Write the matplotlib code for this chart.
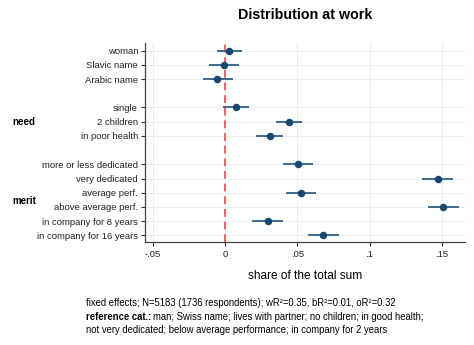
import matplotlib
matplotlib.use("Agg")
import matplotlib.pyplot as plt
import matplotlib.transforms as mtransforms

plt.rcParams['font.family'] = ['Liberation Sans', 'DejaVu Sans']

labels = ["woman", "Slavic name", "Arabic name",
          "single", "2 children", "in poor health",
          "more or less dedicated", "very dedicated", "average perf.",
          "above average perf.", "in company for 8 years", "in company for 16 years"]
positions = [1, 2, 3, 5, 6, 7, 9, 10, 11, 12, 13, 14]
estimates = [0.0030, -0.0007, -0.0053, 0.0076, 0.0443, 0.0309,
             0.0503, 0.1470, 0.0528, 0.1510, 0.0295, 0.0680]
ci_low = [-0.0057, -0.0110, -0.0154, -0.0012, 0.0353, 0.0217,
          0.0399, 0.1365, 0.0422, 0.1406, 0.0191, 0.0576]
ci_high = [0.0118, 0.0099, 0.0053, 0.0168, 0.0533, 0.0401,
           0.0608, 0.1575, 0.0631, 0.1616, 0.0401, 0.0786]
xticks = [-0.05, 0, 0.05, 0.1, 0.15]
xticklabels = ["-.05", "0", ".05", ".1", ".15"]
groups = [("need", 6), ("merit", 11.55)]

W, H = 474, 345
fig = plt.figure(figsize=(W / 100, H / 100), dpi=100)
ax = fig.add_axes([145 / W, 1 - 242 / H, 320 / W, 199 / H])

navy = "#1a476f"
ci_col = "#3d6a93"
grid_col = "#e8eef3"

for p in positions:
    ax.axhline(p, color=grid_col, lw=0.8, zorder=0)
for t in xticks:
    ax.axvline(t, color=grid_col, lw=0.8, zorder=0)

ax.axvline(0, color="#e8646c", lw=1.4, ls=(0, (4, 2.5)), zorder=1)
ax.hlines(positions, ci_low, ci_high, color=ci_col, lw=1.4, zorder=2)
ax.plot(estimates, positions, 'o', color=navy, ms=4.4, zorder=3)

ax.set_xlim(-0.0552, 0.166)
ax.set_ylim(14.47, 0.46)
ax.set_yticks(positions)
ax.set_yticklabels(labels)
ax.set_xticks(xticks)
ax.set_xticklabels(xticklabels)
ax.tick_params(axis='both', labelsize=6.8, colors="#333333", length=3, width=0.8, labelcolor="#222222")
ax.tick_params(axis='y', pad=2)
ax.tick_params(axis='x', pad=2.5)
for s in ["top", "right"]:
    ax.spines[s].set_visible(False)
for s in ["left", "bottom"]:
    ax.spines[s].set_color("#444444")
    ax.spines[s].set_linewidth(0.9)

trans = mtransforms.blended_transform_factory(fig.transFigure, ax.transData)
for name, yv in groups:
    fig.text(12.5 / W, yv, name, transform=trans, fontsize=7,
             fontweight="bold", ha="left", va="center")

fig.text(305 / W, 1 - 15 / H, "Distribution at work", ha="center", va="center",
         fontsize=10.3, fontweight="bold")
fig.text(305 / W, 1 - 276 / H, "share of the total sum", ha="center", va="center",
         fontsize=8.6)

fs = 6.85
x0 = 86 / W
fig.text(x0, 1 - 303 / H, "fixed effects; N=5183 (1736 respondents); wR²=0.35, bR²=0.01, oR²=0.32",
         fontsize=fs, va="center", ha="left")
tb = fig.text(x0, 1 - 316.5 / H, "reference cat.:", fontsize=fs, fontweight="bold", va="center", ha="left")
fig.canvas.draw()
bb = tb.get_window_extent(fig.canvas.get_renderer())
fig.text(bb.x1 / W + 2 / W, 1 - 316.5 / H,
         "man; Swiss name; lives with partner; no children; in good health;",
         fontsize=fs, va="center", ha="left")
fig.text(x0, 1 - 330 / H, "not very dedicated; below average performance; in company for 2 years",
         fontsize=fs, va="center", ha="left")

fig.savefig("out.png", dpi=100)
